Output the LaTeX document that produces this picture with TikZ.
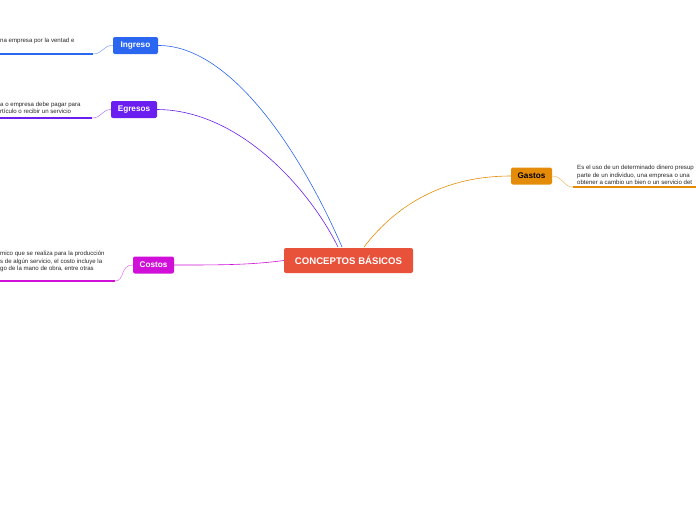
\documentclass[tikz,border=0pt]{standalone}
\usepackage{fontspec}
\setmainfont{Liberation Sans}
\begin{document}
\begin{tikzpicture}[x=1pt,y=-1pt,
 topic/.style={rounded corners=2pt,minimum height=17pt,text=white,font=\fontsize{8.2}{9}\selectfont\bfseries,inner xsep=3pt},
 desc/.style={anchor=west,align=left,inner sep=0pt,font=\fontsize{6.1}{7.3}\selectfont,text=black!85},
 lnk/.style={line width=0.6pt}]
\useasboundingbox (0,0) rectangle (696,520);
\clip (0,0) rectangle (696,520);
\definecolor{cred}{HTML}{E8513A}
\definecolor{cblue}{HTML}{2A66F0}
\definecolor{cpurp}{HTML}{6A1EF0}
\definecolor{cmag}{HTML}{D010D8}
\definecolor{corg}{HTML}{E48C08}
\node[topic,fill=cred,minimum width=129pt,minimum height=25pt,font=\fontsize{9.6}{10}\selectfont\bfseries] (c) at (348.5,260.5) {CONCEPTOS BÁSICOS};
\node[topic,fill=cblue,minimum width=45pt] (i) at (135.5,45.5) {Ingreso};
\node[topic,fill=cpurp,minimum width=46pt] (e) at (134,109.5) {Egresos};
\node[topic,fill=cmag,minimum width=41pt] (k) at (153.5,265) {Costos};
\node[topic,fill=corg,minimum width=41pt,text=black] (g) at (531.5,176) {Gastos};
\coordinate (ct1) at (342,247);
\coordinate (ct2) at (338,247);
\coordinate (ct3) at (364,247);
\draw[lnk,cblue] (i.east) .. controls (230,45) and (300,150) .. (ct1);
\draw[lnk,cpurp] (e.east) .. controls (240,110) and (310,190) .. (ct2);
\draw[lnk,corg] (g.west) .. controls (450,176) and (400,200) .. (ct3);
\draw[lnk,cmag] (k.east) .. controls (220,265) and (250,265) .. (c.west);
% descriptions
\coordinate (il) at (93,54); \coordinate (ie) at (0,54);
\draw[cblue,line width=1.6pt] (ie) -- (il);
\draw[cblue!60,line width=0.5pt] (il) .. controls (103,54) and (103,45) .. (i.west);
\node[desc] (it) at (0,41) {na empresa por la ventad e};
\coordinate (el) at (92,118); \coordinate (ee) at (0,118);
\draw[cpurp,line width=1.6pt] (ee) -- (el);
\draw[cpurp!60,line width=0.5pt] (el) .. controls (102,118) and (101,110) .. (e.west);
\node[desc] (et) at (0,107.5) {a o empresa debe pagar para\\rtículo o recibir un servicio};
\coordinate (kl) at (115,281); \coordinate (ke) at (0,281);
\draw[cmag,line width=1.6pt] (ke) -- (kl);
\draw[cmag!60,line width=0.5pt] (kl) .. controls (125,281) and (120,265) .. (k.west);
\node[desc] (kt) at (0,261.5) {mico que se realiza para la producción\\s de algún servicio, el costo incluye la\\go de la mano de obra, entre otras};
\coordinate (gl) at (573,187); \coordinate (ge) at (696,187);
\draw[corg,line width=1.6pt] (gl) -- (ge);
\draw[corg!60,line width=0.5pt] (g.east) .. controls (563,176) and (563,187) .. (gl);
\node[desc] (gt) at (577,175) {Es el uso de un determinado dinero presup\\parte de un individuo, una empresa o una\\obtener a cambio un bien o un servicio det};
\end{tikzpicture}
\end{document}
